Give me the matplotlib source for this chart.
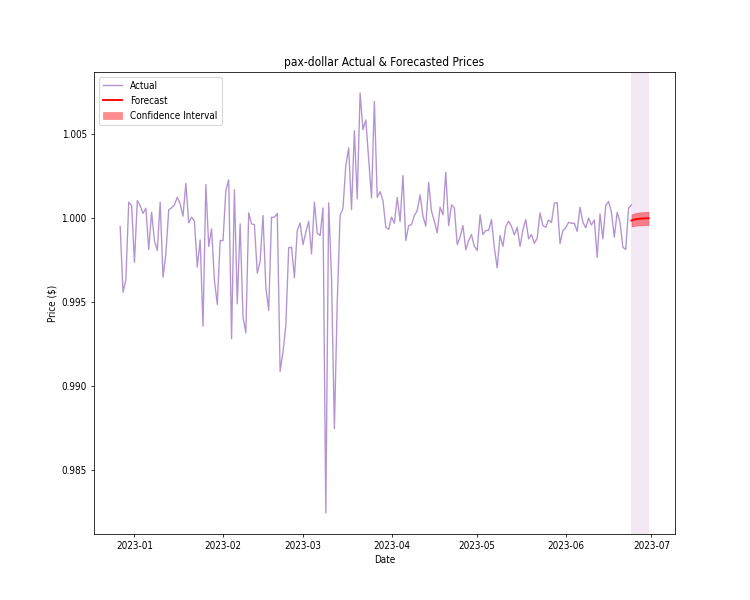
import numpy as np
import pandas as pd
import matplotlib
matplotlib.use("Agg")
import matplotlib.pyplot as plt

# the reference was squeezed more sideways than up/down -> narrower type
plt.rcParams["font.family"] = ["DejaVu Sans"]
plt.rcParams["font.stretch"] = "condensed"
plt.rcParams["font.size"] = 9.5
plt.rcParams["lines.linewidth"] = 1.3
plt.rcParams["axes.linewidth"] = 0.75
plt.rcParams["xtick.major.size"] = 3.2
plt.rcParams["ytick.major.size"] = 3.2
plt.rcParams["xtick.major.width"] = 0.75
plt.rcParams["ytick.major.width"] = 0.75

coin = "pax-dollar"

# daily closing prices, 2022-12-27 .. 2023-06-24
actual_dates = pd.date_range("2022-12-27", "2023-06-24", freq="D")
actual_prices = [
    0.99948, 0.99558, 0.99632, 1.00093, 1.00073, 0.99736, 1.00103, 1.00073, 1.00027, 1.00057,
    0.99812, 1.00033, 0.99865, 0.99806, 1.00093, 0.99647, 0.99786, 1.00048, 1.00059, 1.00077,
    1.00122, 1.00083, 1.00010, 1.00205, 0.99970, 1.00004, 0.99980, 0.99707, 0.99869, 0.99356,
    1.00198, 0.99830, 0.99935, 0.99628, 0.99485, 0.99865, 0.99865, 1.00162, 1.00226, 0.99282,
    1.00168, 0.99489, 0.99964, 0.99410, 0.99317, 1.00030, 0.99964, 0.99960, 0.99671, 0.99742,
    1.00014, 0.99588, 0.99450, 1.00004, 1.00004, 1.00027, 0.99087, 0.99202, 0.99360, 0.99822,
    0.99825, 0.99644, 0.99925, 0.99970, 0.99841, 0.99914, 0.99980, 0.99786, 1.00093, 0.99909,
    0.99895, 1.00059, 0.98246, 1.00089, 0.99638, 0.98747, 0.99499, 1.00014, 1.00057, 1.00311,
    1.00416, 1.00049, 1.00518, 1.00113, 1.00742, 1.00524, 1.00582, 1.00350, 1.00119, 1.00692,
    1.00122, 1.00156, 1.00103, 0.99944, 0.99931, 1.00004, 0.99968, 1.00122, 0.99978, 1.00251,
    0.99865, 0.99954, 0.99960, 1.00014, 1.00043, 1.00137, 1.00010, 0.99950, 1.00211, 1.00039,
    0.99980, 0.99911, 1.00063, 1.00018, 1.00271, 0.99954, 1.00077, 1.00059, 0.99841, 0.99885,
    0.99954, 0.99810, 0.99865, 0.99901, 0.99831, 0.99806, 1.00018, 0.99901, 0.99925, 0.99925,
    0.99990, 0.99822, 0.99703, 0.99895, 0.99831, 0.99948, 0.99980, 0.99950, 0.99899, 0.99944,
    0.99830, 0.99929, 0.99990, 0.99875, 0.99901, 0.99849, 0.99879, 1.00030, 0.99954, 0.99944,
    0.99988, 0.99972, 1.00087, 1.00091, 0.99846, 0.99925, 0.99941, 0.99974, 0.99968, 0.99968,
    0.99920, 1.00063, 0.99974, 0.99941, 0.99998, 0.99958, 0.99988, 0.99766, 1.00024, 0.99875,
    1.00073, 1.00097, 1.00033, 0.99885, 1.00033, 0.99974, 0.99825, 0.99812, 1.00057, 1.00077,
]

# 7 day forecast + confidence band
forecast_dates = pd.date_range("2023-06-24", "2023-06-30", freq="D")
forecast_prices = [0.99984, 0.99990, 0.99993, 0.99995, 0.99996, 0.99997, 0.99998]
ci_upper = [1.00020, 1.00027, 1.00031, 1.00033, 1.00035, 1.00036, 1.00037]
ci_lower = [0.99948, 0.99952, 0.99954, 0.99955, 0.99955, 0.99956, 0.99956]

fig, ax = plt.subplots(figsize=(10, 8), dpi=75)

ax.plot(actual_dates, actual_prices, color="tab:purple", alpha=0.7, label="Actual")
ax.plot(forecast_dates, forecast_prices, color="red", linewidth=1.8, label="Forecast")
ax.fill_between(forecast_dates, ci_lower, ci_upper, color="red", alpha=0.45,
                linewidth=0.5, label="Confidence Interval")
ax.axvspan(forecast_dates[0], forecast_dates[-1], color="purple", alpha=0.09, linewidth=0)

ax.set_title(f"{coin} Actual & Forecasted Prices")
ax.set_xlabel("Date")
ax.set_ylabel("Price ($)")
ax.legend(loc="upper left")

plt.savefig("out.png")
plt.close()
